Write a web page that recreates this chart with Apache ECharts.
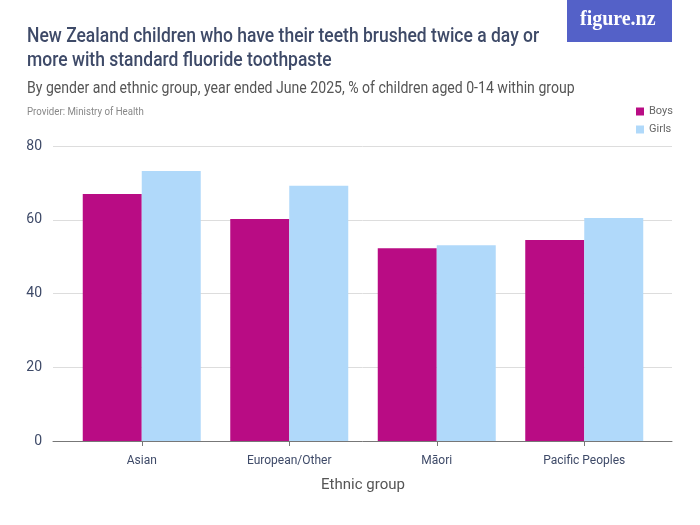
<html lang="en">
<head>
    <meta charset="utf-8">
    <title>Teeth brushing - figure.nz</title>
    <script src="https://cdn.jsdelivr.net/npm/echarts@6/dist/echarts.min.js"></script>
</head>
<style>
    body{ margin:0; background:#fff; }
    #chart{ width:700px; height:525px; }
</style>
<body>
<div id="chart"></div>
<script>
    var categories = ['Asian', 'European/Other', 'Māori', 'Pacific Peoples'];
    var boys = [67.0, 60.2, 52.3, 54.5];
    var girls = [73.2, 69.2, 53.1, 60.5];
    var yTicks = [0, 20, 40, 60, 80];

    var FONT = 'Roboto, sans-serif';
    var ink = '#3e4a68';

    var myChart = echarts.init(document.getElementById('chart'), null, {width: 700, height: 525});
    var option = {
        animation: false,
        textStyle: { fontFamily: FONT },
        graphic: [
            // logo block
            { type: 'rect', left: 567, top: 0, shape: { width: 105, height: 42 }, style: { fill: '#5461c8' } },
            { type: 'text', x: 580, y: 9, scaleX: 0.95, style: { text: 'figure.nz', fill: '#fff', font: 'bold 21px "Liberation Serif", serif', verticalAlign: 'top' } },
            // heading text, squeezed to look like the condensed face of the original
            { type: 'text', x: 27, y: 25, scaleX: 0.875, style: { text: 'New Zealand children who have their teeth brushed twice a day or\nmore with standard fluoride toothpaste', fill: ink, font: '500 20px ' + FONT, lineHeight: 24, verticalAlign: 'top' } },
            { type: 'text', x: 27, y: 81, scaleX: 0.88, style: { text: 'By gender and ethnic group, year ended June 2025, % of children aged 0-14 within group', fill: '#555', font: '16px ' + FONT, verticalAlign: 'top' } },
            { type: 'text', x: 27, y: 107, scaleX: 0.88, style: { text: 'Provider: Ministry of Health', fill: '#888', font: '11px ' + FONT, verticalAlign: 'top' } }
        ],
        legend: {
            orient: 'vertical',
            left: 631, top: 101,
            itemWidth: 8, itemHeight: 8, itemGap: 7,
            icon: 'rect',
            textStyle: { color: '#666', fontSize: 11, fontFamily: FONT },
            data: ['Boys', 'Girls']
        },
        grid: [
            { left: 53, right: 28, top: 146, bottom: 84 },
            { left: 68, right: 42, top: 146, bottom: 84 }
        ],
        xAxis: [
            {
                gridIndex: 0, type: 'category', data: categories,
                axisLine: { lineStyle: { color: '#777' } },
                axisTick: { show: false }, axisLabel: { show: false }
            },
            {
                gridIndex: 1, type: 'category', data: categories,
                name: 'Ethnic group', nameLocation: 'middle', nameGap: 37,
                nameTextStyle: { color: '#555', fontSize: 15, fontFamily: FONT },
                axisLine: { show: false },
                axisTick: { show: true, alignWithLabel: true, length: 5, lineStyle: { color: '#777' } },
                axisLabel: { color: ink, fontSize: 12, margin: 14, fontFamily: FONT }
            }
        ],
        yAxis: [
            {
                gridIndex: 0, type: 'value', min: yTicks[0], max: yTicks[yTicks.length - 1], interval: 20,
                axisLine: { show: false }, axisTick: { show: false },
                axisLabel: { color: ink, fontSize: 14, margin: 11, fontFamily: FONT },
                splitLine: { lineStyle: { color: '#ddd' } }
            },
            {
                gridIndex: 1, type: 'value', min: yTicks[0], max: yTicks[yTicks.length - 1], interval: 20,
                show: false
            }
        ],
        series: [
            { name: 'Boys', type: 'bar', xAxisIndex: 1, yAxisIndex: 1, data: boys, barGap: '0%', barCategoryGap: '20%', itemStyle: { color: '#b90c84' } },
            { name: 'Girls', type: 'bar', xAxisIndex: 1, yAxisIndex: 1, data: girls, itemStyle: { color: '#b0d9fa' } }
        ]
    };
    myChart.setOption(option);
</script>
</body>
</html>
